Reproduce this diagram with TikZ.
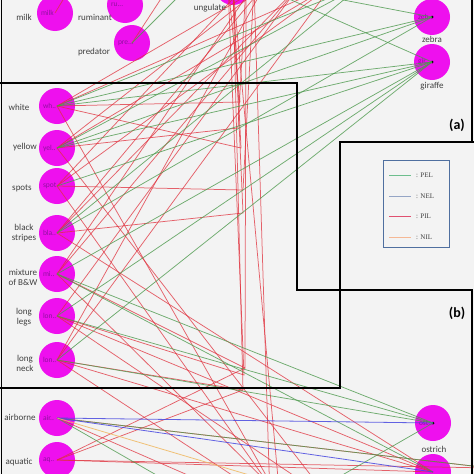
\documentclass[tikz,border=0pt]{standalone}
\usepackage{fontspec}
\setmainfont{Carlito}
\newfontfamily\legfont{Liberation Serif}
\definecolor{bg}{HTML}{F3F3F3}
\definecolor{nodemag}{HTML}{EE10EE}
\definecolor{labgray}{HTML}{404040}
\definecolor{innpur}{HTML}{9010A0}
\definecolor{pelc}{HTML}{4E9A4E}
\definecolor{pilc}{HTML}{E0303C}
\definecolor{nelc}{HTML}{4848E0}
\definecolor{nilc}{HTML}{F0B860}
\definecolor{legbox}{HTML}{4F6F9F}
\definecolor{lpel}{HTML}{6DBE8D}
\definecolor{lnel}{HTML}{95A5C5}
\definecolor{lpil}{HTML}{E05070}
\definecolor{lnil}{HTML}{F5B895}
\begin{document}
\begin{tikzpicture}[x=1pt,y=-1pt,
  feat/.style={circle,fill=nodemag,minimum size=36pt,inner sep=0pt,text width=28pt,align=left,text=innpur,font=\fontsize{7.5}{8.5}\selectfont},
  lab/.style={text=labgray,font=\fontsize{9}{10}\selectfont,align=center,inner sep=0pt},
  pel/.style={draw=pelc,line width=0.75pt,opacity=0.8},
  pil/.style={draw=pilc,line width=0.75pt,opacity=0.75},
  nel/.style={draw=nelc,line width=0.8pt,opacity=0.85},
  nil/.style={draw=nilc,line width=0.8pt,opacity=0.85},
  framel/.style={line width=1.3pt,black},
  dotc/.style={circle,fill=black,inner sep=0pt,minimum size=3pt},
  legtxt/.style={font=\legfont\fontsize{7}{8}\selectfont,text=labgray,anchor=west,inner sep=0pt},
  panel/.style={font=\bfseries\fontsize{14}{15}\selectfont,text=black,inner sep=0pt}]
\fill[bg] (0,0) rectangle (474,474);
\clip (0,0) rectangle (474,474);

% ---- nodes ----
\node[feat] (milk) at (55,13) {milk};
\node[feat] (rumi) at (125,5) {ru...};
\node[feat] (pred) at (132,43) {pre...};
\node[feat] (ung) at (233,-13) {};
\node[feat] (zebra) at (432,17) {zeb..};
\node[feat] (giraffe) at (432,62) {gir..};
\node[feat] (ostrich) at (433,423) {ost..};
\node[feat] (bot) at (433,472) {};
\node[feat] (white) at (57,106) {wh..};
\node[feat] (yellow) at (57,148) {yel..};
\node[feat] (spots) at (57,186) {spot};
\node[feat] (black) at (57,233) {bla..};
\node[feat] (mix) at (57,274) {mi..};
\node[feat] (legs) at (57,316) {lon..};
\node[feat] (neck) at (57,360) {lon..};
\node[feat] (air) at (57,418) {air..};
\node[feat] (aqua) at (57,460) {aq..};
\node[dotc] (zdot) at (zebra.center) {};
\node[dotc] (gdot) at (giraffe.center) {};
\node[dotc] (odot) at (ostrich.center) {};

% ---- hidden end points ----
\coordinate (tA) at (265,-15);
\coordinate (tB) at (300,-15);
\coordinate (tC) at (332,-15);
\coordinate (tD) at (362,-15);
\coordinate (tE) at (170,-15);
\coordinate (tF) at (190,-15);
\coordinate (tG) at (72,-15);
\coordinate (tH) at (280,-5);
\coordinate (tI) at (228,-15);
\coordinate (tJ) at (246,-15);
\coordinate (tK) at (254,-15);
\coordinate (bA) at (280,500);
\coordinate (bB) at (330,500);
\coordinate (bC) at (200,500);
\coordinate (bD) at (245,500);
\coordinate (bE) at (290,505);
\coordinate (bF) at (300,490);
\coordinate (bG) at (270,500);
\coordinate (rA) at (490,468);
\coordinate (kA) at (240,102);
\coordinate (kB) at (238,128);
\coordinate (kC) at (241,148);
\coordinate (kD) at (243,190);
\coordinate (kE) at (243,213);
\coordinate (kF) at (245,368);
\coordinate (kG) at (244,375);
\coordinate (kH) at (243,390);

% ---- PIL ----
\draw[pil] (milk.center) -- (tG);
\draw[pil] (pred.center) -- (tE);
\draw[pil] (white.center) -- (kA) -- (tI);
\draw[pil] (white.center) -- (kC) -- (ung.center);
\draw[pil] (yellow.center) -- (kB) -- (tJ);
\draw[pil] (spots.center) -- (kD) -- (tK);
\draw[pil] (black.center) -- (kE) -- (ung.center);
\draw[pil] (mix.center) -- (kF) -- (tJ);
\draw[pil] (legs.center) -- (kG) -- (tI);
\draw[pil] (neck.center) -- (kH) -- (ung.center);
\draw[pil] (ung.center) -- (bA);
\draw[pil] (tK) -- (bG);
\draw[pil] (tA) -- (white.center);
\draw[pil] (tA) -- (yellow.center);
\draw[pil] (tA) -- (black.center);
\draw[pil] (tA) -- (neck.center);
\draw[pil] (tC) -- (white.center);
\draw[pil] (tC) -- (yellow.center);
\draw[pil] (tC) -- (spots.center);
\draw[pil] (tC) -- (neck.center);
\draw[pil] (tB) -- (mix.center);
\draw[pil] (tB) -- (legs.center);
\draw[pil] (tB) -- (black.center);
\draw[pil] (tJ) -- (spots.center);
\draw[pil] (tK) -- (mix.center);
\draw[pil] (yellow.center) -- (bB);
\draw[pil] (white.center) -- (bA);
\draw[pil] (spots.center) -- (bA);
\draw[pil] (neck.center) -- (bot.center);
\draw[pil] (legs.center) -- (bot.center);
\draw[pil] (black.center) -- (bot.center);
\draw[pil] (mix.center) -- (bE);
\draw[pil] (aqua.center) -- (bot.center);
\draw[pil] (aqua.center) -- (rA);
\draw[pil] (aqua.center) -- (kF);
\draw[pil] (aqua.center) -- (kH);
\draw[pil] (air.center) -- (bD);
\draw[pil] (air.center) -- (rA);
\draw[pil] (legs.center) -- (bB);
\draw[pil] (neck.center) -- (bG);

% ---- PEL ----
\draw[pel] (pred.center) -- (tF);
\draw[pel] (zebra.center) -- (tA);
\draw[pel] (giraffe.center) -- (tH);
\draw[pel] (zebra.center) -- (white.center);
\draw[pel] (zebra.center) -- (yellow.center);
\draw[pel] (zebra.center) -- (black.center);
\draw[pel] (giraffe.center) -- (white.center);
\draw[pel] (giraffe.center) -- (yellow.center);
\draw[pel] (giraffe.center) -- (spots.center);
\draw[pel] (giraffe.center) -- (mix.center);
\draw[pel] (giraffe.center) -- (legs.center);
\draw[pel] (giraffe.center) -- (neck.center);
\draw[pel] (tD) -- (white.center);
\draw[pel] (tD) -- (yellow.center);
\draw[pel] (tD) -- (black.center);
\draw[pel] (ostrich.center) -- (legs.center);
\draw[pel] (ostrich.center) -- (neck.center);
\draw[pel] (ostrich.center) -- (mix.center);
\draw[pel] (ostrich.center) -- (bE);
\draw[pel] (mix.center) -- (bot.center);
\draw[pel] (air.center) -- (bC);
\draw[pel] (air.center) -- (rA);

% ---- NEL / NIL ----
\draw[nel] (air.center) -- (ostrich.center);
\draw[nel] (air.center) -- (bot.center);
\draw[nil] (air.center) -- (bF);

% ---- frames ----
\draw[framel] (1.5,0) -- (1.5,474);
\draw[framel] (0,83) -- (297,83) -- (297,290) -- (472,290) -- (472,474);
\draw[framel] (472,0) -- (472,142) -- (474,142);
\draw[framel] (474,142) -- (340,142) -- (340,388) -- (0,388);

% ---- labels ----
\node[lab] (milkl) at (24,17) {milk};
\node[lab] (ruml) at (95,17) {ruminant};
\node[lab] (predl) at (94,52) {predator};
\node[lab] (ungl) at (210,8) {ungulate};
\node[lab] (zebral) at (432,39) {zebra};
\node[lab] (girl) at (432,86) {giraffe};
\node[lab] (ostl) at (434,449) {ostrich};
\node[lab] (whitel) at (19,107) {white};
\node[lab] (yellowl) at (25,147) {yellow};
\node[lab] (spotsl) at (22,188) {spots};
\node[lab] (blackl) at (24,233) {black\\stripes};
\node[lab] (mixl) at (23,277) {mixture\\of B\&W};
\node[lab] (legsl) at (24,317) {long\\legs};
\node[lab] (neckl) at (25,363) {long\\neck};
\node[lab] (airl) at (20,417) {airborne};
\node[lab] (aqual) at (19,462) {aquatic};
\node[panel] (pa) at (457,125) {(a)};
\node[panel] (pb) at (457,313) {(b)};

% ---- legend ----
\draw[legbox,line width=1pt,fill=bg] (383,160) rectangle (449,247);
\coordinate (l1a) at (389,175); \coordinate (l1b) at (411,175);
\coordinate (l2a) at (389,196); \coordinate (l2b) at (411,196);
\coordinate (l3a) at (389,216); \coordinate (l3b) at (411,216);
\coordinate (l4a) at (389,237); \coordinate (l4b) at (411,237);
\draw[lpel,line width=0.8pt] (l1a) -- (l1b);
\draw[lnel,line width=0.8pt] (l2a) -- (l2b);
\draw[lpil,line width=0.8pt] (l3a) -- (l3b);
\draw[lnil,line width=0.8pt] (l4a) -- (l4b);
\node[legtxt] (lg1) at (416,175) {: PEL};
\node[legtxt] (lg2) at (416,196) {: NEL};
\node[legtxt] (lg3) at (416,216) {: PIL};
\node[legtxt] (lg4) at (416,237) {: NIL};
\end{tikzpicture}
\end{document}
